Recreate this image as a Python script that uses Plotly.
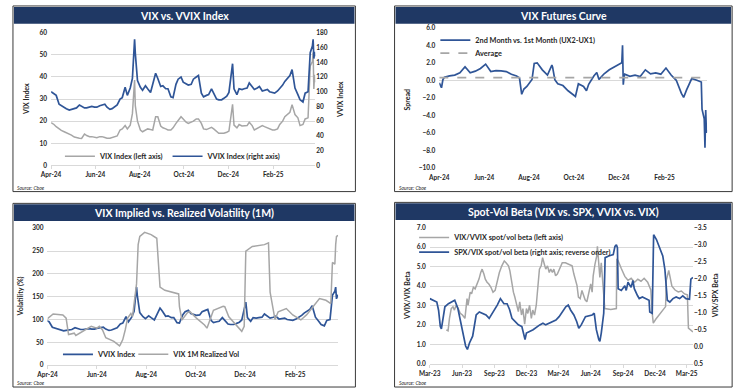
import plotly.graph_objects as go

# ---------------- DATA ----------------
# Panel 1 / 3 : VIX and VVIX index levels
idx_dates = ["2024-04-12", "2024-04-16", "2024-04-19", "2024-04-23", "2024-04-26", "2024-04-30",
             "2024-05-03", "2024-05-07", "2024-05-10", "2024-05-14", "2024-05-17", "2024-05-21",
             "2024-05-24", "2024-05-28", "2024-05-31", "2024-06-04", "2024-06-07", "2024-06-11",
             "2024-06-14", "2024-06-18", "2024-06-21", "2024-06-25", "2024-06-28", "2024-07-02",
             "2024-07-05", "2024-07-09", "2024-07-12", "2024-07-16", "2024-07-19", "2024-07-23",
             "2024-07-26", "2024-07-30", "2024-08-02", "2024-08-05", "2024-08-06", "2024-08-09",
             "2024-08-13", "2024-08-16", "2024-08-20", "2024-08-23", "2024-08-27", "2024-08-30",
             "2024-09-03", "2024-09-06", "2024-09-10", "2024-09-13", "2024-09-17", "2024-09-20",
             "2024-09-24", "2024-09-27", "2024-10-01", "2024-10-04", "2024-10-08", "2024-10-11",
             "2024-10-15", "2024-10-18", "2024-10-22", "2024-10-25", "2024-10-29", "2024-11-01",
             "2024-11-05", "2024-11-08", "2024-11-12", "2024-11-15", "2024-11-19", "2024-11-22",
             "2024-11-26", "2024-11-29", "2024-12-03", "2024-12-06", "2024-12-10", "2024-12-13",
             "2024-12-18", "2024-12-20", "2024-12-24", "2024-12-27", "2024-12-31", "2025-01-03",
             "2025-01-07", "2025-01-10", "2025-01-14", "2025-01-17", "2025-01-21", "2025-01-24",
             "2025-01-28", "2025-01-31", "2025-02-04", "2025-02-07", "2025-02-11", "2025-02-14",
             "2025-02-18", "2025-02-21", "2025-02-25", "2025-02-28", "2025-03-04", "2025-03-07",
             "2025-03-10", "2025-03-14", "2025-03-18", "2025-03-21", "2025-03-25", "2025-03-28",
             "2025-04-01", "2025-04-04", "2025-04-07", "2025-04-08", "2025-04-09", "2025-04-10",
             "2025-04-11"]
vix_values = [19.3, 18.5, 17.5, 16.5, 15.8, 15.2,
              14.8, 14.2, 13.7, 12.8, 12.5, 12.3,
              12.2, 14.2, 13.5, 13.0, 13.0, 12.7,
              12.5, 13.0, 13.0, 12.6, 12.3, 12.3,
              12.5, 12.8, 13.3, 16.0, 16.5, 18.0,
              16.5, 18.2, 23.4, 38.6, 27.0, 20.0,
              16.0, 15.2, 15.8, 16.5, 16.2, 16.0,
              22.0, 22.0, 17.8, 17.0, 16.5, 16.0,
              16.0, 17.0, 19.0, 20.5, 22.0, 21.0,
              19.5, 19.0, 19.5, 20.0, 21.0, 21.0,
              19.0, 16.5, 16.2, 16.7, 17.2, 16.5,
              15.3, 14.5, 14.5, 14.5, 15.0, 15.5,
              27.6, 18.2, 17.0, 18.5, 17.8, 17.8,
              18.0, 19.5, 18.0, 16.0, 16.8, 17.5,
              18.0, 17.5, 17.0, 16.5, 16.0, 16.0,
              16.5, 18.5, 20.0, 22.0, 23.0, 24.0,
              27.5, 23.0, 21.5, 18.0, 18.5, 21.0,
              21.5, 45.0, 47.0, 51.0, 34.6, 41.0,
              37.6]
vvix_values = [100, 97, 95, 83, 81, 79,
               77, 75, 76, 77, 78, 82,
               80, 78, 78, 79, 80, 79,
               79, 81, 82, 83, 79, 76,
               77, 80, 82, 90, 92, 106,
               95, 105, 118, 171, 152, 115,
               106, 102, 108, 104, 99, 110,
               125, 118, 107, 108, 104, 104,
               93, 92, 110, 117, 120, 113,
               110, 109, 110, 117, 120, 122,
               98, 93, 95, 96, 104, 98,
               90, 89, 89, 91, 94, 99,
               138, 104, 96, 104, 103, 104,
               105, 112, 106, 103, 105, 107,
               101, 102, 103, 100, 99, 98,
               101, 104, 109, 114, 118, 122,
               130, 105, 96, 89, 86, 98,
               100, 153, 162, 171, 145, 154,
               148]

# Panel 2 : UX2-UX1 spread
spread_dates = ["2024-04-12", "2024-04-15", "2024-04-17", "2024-04-19", "2024-04-26", "2024-05-03",
                "2024-05-10", "2024-05-17", "2024-05-24", "2024-05-31", "2024-06-07", "2024-06-14",
                "2024-06-21", "2024-06-28", "2024-07-05", "2024-07-12", "2024-07-19", "2024-07-26",
                "2024-07-30", "2024-08-01", "2024-08-02", "2024-08-05", "2024-08-09", "2024-08-16",
                "2024-08-19", "2024-08-23", "2024-08-30", "2024-09-06", "2024-09-12", "2024-09-13",
                "2024-09-16", "2024-09-20", "2024-09-27", "2024-10-04", "2024-10-11", "2024-10-14",
                "2024-10-18", "2024-10-25", "2024-10-29", "2024-11-01", "2024-11-08", "2024-11-12",
                "2024-11-15", "2024-11-22", "2024-11-29", "2024-12-06", "2024-12-13", "2024-12-16",
                "2024-12-17", "2024-12-18", "2024-12-19", "2024-12-20", "2024-12-27", "2025-01-03",
                "2025-01-10", "2025-01-17", "2025-01-24", "2025-01-31", "2025-02-07", "2025-02-14",
                "2025-02-21", "2025-02-28", "2025-03-07", "2025-03-10", "2025-03-14", "2025-03-21",
                "2025-03-28", "2025-04-03", "2025-04-04", "2025-04-07", "2025-04-08", "2025-04-09",
                "2025-04-10", "2025-04-11"]
spread_values = [-0.3, -0.85, 0.1, 0.35, 0.5, 0.6,
                 0.85, 1.55, 0.85, 1.05, 1.35, 1.85,
                 1.0, 1.1, 1.07, 1.0, 0.7, 0.5,
                 0.26, -1.2, -1.6, -1.0, -0.7, 0.1,
                 1.93, 2.0, 1.2, 0.6, 1.74, 1.5,
                 0.07, -0.4, -0.6, -1.2, -1.7, -1.85,
                 -0.4, -0.7, -1.2, -0.45, 0.5, 0.9,
                 0.1, 0.75, 1.2, 1.5, 1.85, 2.0,
                 4.0, -0.5, 0.4, 0.7, 0.45, 0.6,
                 0.44, 1.2, 0.74, 0.85, 0.7, 1.4,
                 0.6, 0.0, -1.5, -1.96, -1.1, 0.2,
                 0.0, -0.2, -3.3, -4.4, -7.7, -3.4,
                 -6.0, -5.7]
spread_average = 0.3

# Panel 3 : VIX 1M realized vol
rv_dates = ["2024-04-17", "2024-04-24", "2024-05-06", "2024-05-10", "2024-05-13", "2024-05-20",
            "2024-05-22", "2024-05-30", "2024-06-10", "2024-06-17", "2024-06-20", "2024-06-24",
            "2024-06-28", "2024-07-08", "2024-07-15", "2024-07-16", "2024-07-19", "2024-07-22",
            "2024-07-25", "2024-07-29", "2024-07-31", "2024-08-02", "2024-08-05", "2024-08-07",
            "2024-08-09", "2024-08-15", "2024-08-23", "2024-08-30", "2024-09-03", "2024-09-09",
            "2024-09-18", "2024-09-26", "2024-09-27", "2024-09-30", "2024-10-07", "2024-10-10",
            "2024-10-18", "2024-10-28", "2024-10-31", "2024-11-04", "2024-11-08", "2024-11-20",
            "2024-11-22", "2024-11-27", "2024-12-06", "2024-12-13", "2024-12-16", "2024-12-18",
            "2024-12-26", "2025-01-10", "2025-01-15", "2025-01-17", "2025-01-23", "2025-01-27",
            "2025-02-06", "2025-02-14", "2025-02-24", "2025-03-03", "2025-03-11", "2025-03-19",
            "2025-03-27", "2025-04-02", "2025-04-04", "2025-04-07", "2025-04-08", "2025-04-09",
            "2025-04-11"]
rv_values = [102, 112, 110, 103, 67, 70,
             65, 74, 85, 81, 85, 77,
             60, 52, 42, 45, 56, 77,
             103, 113, 106, 135, 178, 264,
             282, 291, 286, 278, 171, 164,
             160, 156, 128, 99, 115, 117,
             103, 88, 81, 99, 120, 129,
             128, 106, 88, 74, 85, 250,
             260, 264, 268, 160, 100, 117,
             124, 110, 99, 110, 128, 146,
             142, 135, 225, 221, 264, 282,
             284]

# Panel 4 : spot-vol betas
spx_beta_dates = ["2023-03-24", "2023-04-04", "2023-04-13", "2023-04-18", "2023-04-23", "2023-04-26",
                  "2023-05-02", "2023-05-06", "2023-05-16", "2023-06-03", "2023-06-12", "2023-06-19",
                  "2023-06-26", "2023-07-04", "2023-07-09", "2023-07-15", "2023-07-24", "2023-08-03",
                  "2023-08-12", "2023-08-31", "2023-09-09", "2023-09-18", "2023-10-02", "2023-10-11",
                  "2023-10-21", "2023-10-30", "2023-11-06", "2023-11-13", "2023-12-01", "2023-12-11",
                  "2023-12-15", "2023-12-20", "2023-12-24", "2024-01-12", "2024-01-31", "2024-02-09",
                  "2024-02-17", "2024-03-08", "2024-03-17", "2024-03-26", "2024-04-05", "2024-04-14",
                  "2024-04-21", "2024-04-28", "2024-05-07", "2024-05-15", "2024-05-21", "2024-05-28",
                  "2024-06-09", "2024-06-28", "2024-07-04", "2024-07-10", "2024-07-17", "2024-07-20",
                  "2024-07-24", "2024-07-31", "2024-08-04", "2024-08-14", "2024-08-27", "2024-09-01",
                  "2024-09-05", "2024-09-08", "2024-09-10", "2024-09-19", "2024-09-29", "2024-10-03",
                  "2024-10-08", "2024-10-17", "2024-10-22", "2024-10-26", "2024-11-04", "2024-11-09",
                  "2024-11-18", "2024-11-27", "2024-12-07", "2024-12-09", "2024-12-16", "2024-12-20",
                  "2024-12-28", "2025-01-06", "2025-01-15", "2025-01-21", "2025-01-26", "2025-01-28",
                  "2025-02-04", "2025-02-13", "2025-02-22", "2025-03-04", "2025-03-13", "2025-03-22",
                  "2025-04-01", "2025-04-05", "2025-04-11"]
spx_beta_values = [-1.42, -1.37, -1.32, -1.08, -0.60, -0.53,
                   -0.89, -1.18, -1.27, -1.37, -1.13, -0.79,
                   -0.41, -0.03, 0.07, -0.12, -0.32, -0.94,
                   -1.03, -0.94, -0.84, -0.99, -1.23, -1.42,
                   -1.27, -1.27, -1.10, -0.84, -0.65, -0.60,
                   -0.41, -0.22, -0.41, -0.51, -0.65, -0.70,
                   -0.65, -0.75, -0.79, -0.89, -1.03, -1.18,
                   -1.23, -1.08, -0.94, -0.75, -0.55, -0.65,
                   -0.89, -0.94, -0.99, -0.51, -0.22, -0.17,
                   -0.41, -0.99, -2.62, -2.67, -2.71, -2.95,
                   -3.00, -2.91, -1.71, -1.66, -1.80, -1.66,
                   -1.90, -1.75, -1.95, -1.71, -1.51, -1.42,
                   -1.47, -1.42, -1.37, -1.03, -0.99, -3.29,
                   -3.15, -2.91, -2.67, -2.28, -1.71, -1.37,
                   -1.32, -1.42, -1.47, -1.42, -1.50, -1.42,
                   -1.40, -1.99, -2.04]

vvix_beta_dates = ["2023-05-10", "2023-05-15", "2023-05-19", "2023-05-24", "2023-05-29", "2023-06-02",
                   "2023-06-07", "2023-06-13", "2023-06-19", "2023-06-25", "2023-07-02", "2023-07-08",
                   "2023-07-11", "2023-07-17", "2023-07-21", "2023-07-26", "2023-07-31", "2023-08-06",
                   "2023-08-11", "2023-08-16", "2023-08-20", "2023-08-25", "2023-08-29", "2023-09-03",
                   "2023-09-08", "2023-09-14", "2023-09-20", "2023-09-26", "2023-10-03", "2023-10-08",
                   "2023-10-15", "2023-10-22", "2023-10-27", "2023-11-03", "2023-11-07", "2023-11-12",
                   "2023-11-17", "2023-11-21", "2023-11-26", "2023-12-01", "2023-12-05", "2023-12-10",
                   "2023-12-14", "2023-12-19", "2023-12-24", "2023-12-28", "2024-01-02", "2024-01-07",
                   "2024-01-11", "2024-01-16", "2024-01-21", "2024-01-25", "2024-01-30", "2024-02-04",
                   "2024-02-08", "2024-02-13", "2024-02-17", "2024-02-22", "2024-02-27", "2024-03-02",
                   "2024-03-07", "2024-03-11", "2024-03-16", "2024-03-21", "2024-03-25", "2024-03-30",
                   "2024-04-04", "2024-04-13", "2024-04-22", "2024-05-02", "2024-05-07", "2024-05-11",
                   "2024-05-16", "2024-05-20", "2024-05-25", "2024-05-30", "2024-06-08", "2024-06-13",
                   "2024-06-17", "2024-06-24", "2024-06-28", "2024-07-01", "2024-07-06", "2024-07-11",
                   "2024-07-13", "2024-07-17", "2024-07-20", "2024-07-24", "2024-07-29", "2024-08-03",
                   "2024-08-20", "2024-09-05", "2024-09-06", "2024-09-10", "2024-09-19", "2024-09-29",
                   "2024-10-08", "2024-10-17", "2024-10-27", "2024-11-05", "2024-11-14", "2024-11-23",
                   "2024-12-03", "2024-12-12", "2024-12-16", "2024-12-19", "2024-12-26", "2025-01-04",
                   "2025-01-18", "2025-01-23", "2025-01-25", "2025-02-01", "2025-02-10", "2025-02-19",
                   "2025-02-28", "2025-03-09", "2025-03-18", "2025-03-26", "2025-03-29", "2025-04-04",
                   "2025-04-11"]
vvix_beta_values = [1.76, 1.71, 2.35, 2.85, 2.94, 2.77,
                    3.02, 2.85, 2.60, 2.52, 2.35, 3.36,
                    3.02, 3.69, 3.61, 3.94, 3.86, 4.11,
                    4.36, 4.70, 4.87, 4.62, 4.36, 4.20,
                    4.11, 3.94, 3.69, 3.78, 4.36, 4.70,
                    5.04, 5.29, 5.20, 5.04, 4.78, 4.20,
                    3.69, 3.44, 3.02, 2.69, 3.19, 2.52,
                    2.85, 2.05, 2.85, 2.60, 3.02, 2.35,
                    2.77, 2.52, 3.02, 4.03, 4.87, 5.04,
                    5.46, 5.12, 4.87, 5.04, 4.70, 4.87,
                    4.70, 4.87, 4.53, 4.62, 4.78, 5.04,
                    5.20, 5.20, 5.12, 5.04, 4.62, 4.28,
                    4.03, 3.44, 3.36, 3.78, 3.30, 3.20,
                    3.61, 4.11, 3.69, 4.53, 5.12, 5.54,
                    6.04, 5.20, 4.45, 5.20, 4.20, 2.85,
                    2.80, 2.85, 5.40, 5.30, 4.90, 4.50,
                    4.30, 4.40, 4.20, 4.35, 4.25, 4.40,
                    4.20, 3.80, 2.60, 2.10, 2.30, 2.50,
                    2.80, 2.95, 4.30, 4.80, 4.00, 3.80,
                    3.70, 3.75, 3.60, 3.55, 1.85, 1.75,
                    1.65]

# tick labels
ticks_1y_a = ["2024-04-12", "2024-06-12", "2024-08-12", "2024-10-12", "2024-12-12", "2025-02-12"]
ticks_1y_b = ["2024-04-17", "2024-06-17", "2024-08-17", "2024-10-17", "2024-12-17", "2025-02-17"]
ticks_1y_text = ["Apr-24", "Jun-24", "Aug-24", "Oct-24", "Dec-24", "Feb-25"]
ticks_2y = ["2023-03-24", "2023-06-24", "2023-09-24", "2023-12-24", "2024-03-24",
            "2024-06-24", "2024-09-24", "2024-12-24", "2025-03-24"]
ticks_2y_text = ["Mar-23", "Jun-23", "Sep-23", "Dec-23", "Mar-24", "Jun-24", "Sep-24", "Dec-24", "Mar-25"]

# ---------------- STYLE ----------------
W, H = 743, 391
NAVY = "#1F3864"
BLUE = "#2F5597"
GRAY = "#A6A6A6"
GRID = "#D9D9D9"
TXT = "#262626"
FONT = "Lato"


def px(x):
    return x / W


def py(y):
    return 1 - y / H


tickfont = dict(family=FONT, size=6.5, color=TXT, weight="bold")
LEGSIZE = 7.3


def leg(text_x, y):
    # one legend box per entry; the entry text begins 40 px right of the box origin
    return dict(orientation="v", x=px(text_x - 40), y=py(y), xanchor="left", yanchor="middle",
                bgcolor="rgba(0,0,0,0)", visible=True,
                font=dict(family=FONT, size=LEGSIZE, color=TXT, weight="bold"))


fig = go.Figure()

# Panel 1
fig.add_trace(go.Scatter(x=idx_dates, y=vix_values, name="VIX Index (left axis)", mode="lines",
                         line=dict(color=GRAY, width=1.5), xaxis="x", yaxis="y", legend="legend",
                         showlegend=True))
fig.add_trace(go.Scatter(x=idx_dates, y=vvix_values, name="VVIX Index (right axis)", mode="lines",
                         line=dict(color=BLUE, width=1.7), xaxis="x", yaxis="y2", legend="legend2",
                         showlegend=True))
# Panel 2
fig.add_trace(go.Scatter(x=spread_dates, y=spread_values, name="2nd Month vs. 1st Month (UX2-UX1)",
                         mode="lines", line=dict(color=BLUE, width=1.7), xaxis="x2", yaxis="y3",
                         legend="legend3", showlegend=True))
fig.add_trace(go.Scatter(x=[spread_dates[0], spread_dates[-1]], y=[spread_average, spread_average],
                         name="Average", mode="lines", line=dict(color=GRAY, width=1.8, dash="dash"),
                         xaxis="x2", yaxis="y3", legend="legend4", showlegend=True))
# Panel 3
fig.add_trace(go.Scatter(x=idx_dates, y=vvix_values, name="VVIX Index", mode="lines",
                         line=dict(color=BLUE, width=1.7), xaxis="x3", yaxis="y4", legend="legend5",
                         showlegend=True))
fig.add_trace(go.Scatter(x=rv_dates, y=rv_values, name="VIX 1M Realized Vol", mode="lines",
                         line=dict(color=GRAY, width=1.5), xaxis="x3", yaxis="y4", legend="legend6",
                         showlegend=True))
# Panel 4
fig.add_trace(go.Scatter(x=vvix_beta_dates, y=vvix_beta_values, name="VIX/VVIX spot/vol beta (left axis)",
                         mode="lines", line=dict(color=GRAY, width=1.5), xaxis="x4", yaxis="y5",
                         legend="legend7", showlegend=True))
fig.add_trace(go.Scatter(x=spx_beta_dates, y=spx_beta_values,
                         name="SPX/VIX spot/vol beta (right axis; reverse order)",
                         mode="lines", line=dict(color=BLUE, width=1.7), xaxis="x4", yaxis="y6",
                         legend="legend8", showlegend=True))

xcommon = dict(type="date", showgrid=False, showline=True, linecolor=GRID, linewidth=1,
               ticks="outside", tickcolor=GRID, ticklen=3, tickfont=tickfont, zeroline=False)
ycommon = dict(showgrid=True, gridcolor=GRID, gridwidth=1, zeroline=False, showline=False,
               ticks="", tickfont=tickfont)

layout = dict(
    width=W, height=H, autosize=False, showlegend=True,
    margin=dict(l=0, r=0, t=0, b=0),
    paper_bgcolor="white", plot_bgcolor="white",
    font=dict(family=FONT, color=TXT),
    xaxis=dict(xcommon, domain=[px(41), px(311)], anchor="y",
               range=["2024-04-12", "2025-04-11"], tickvals=ticks_1y_a, ticktext=ticks_1y_text),
    yaxis=dict(ycommon, domain=[py(164.3), py(29.3)], anchor="x", range=[0, 60], dtick=10,
               ticklabelstandoff=3),
    yaxis2=dict(ycommon, overlaying="y", side="right", anchor="x", range=[0, 180], dtick=20,
                showgrid=False),
    xaxis2=dict(xcommon, domain=[px(437.7), px(711.5)], anchor="y3", showline=False,
                tickcolor="rgba(0,0,0,0)",
                range=["2024-04-12", "2025-04-11"], tickvals=ticks_1y_a, ticktext=ticks_1y_text),
    yaxis3=dict(ycommon, domain=[py(166.7), py(24.3)], anchor="x2", range=[-10, 6], dtick=2,
                tickformat=".1f", showgrid=False, zeroline=True, zerolinecolor=GRID, zerolinewidth=1.2,
                ticklabelstandoff=3),
    xaxis3=dict(xcommon, domain=[px(37.3), px(334.3)], anchor="y4",
                range=["2024-04-17", "2025-04-11"], tickvals=ticks_1y_b, ticktext=ticks_1y_text),
    yaxis4=dict(ycommon, domain=[py(367.7), py(228.3)], anchor="x3", range=[0, 300], dtick=50,
                ticklabelstandoff=3),
    xaxis4=dict(xcommon, domain=[px(428), px(697)], anchor="y5",
                range=["2023-03-24", "2025-04-11"], tickvals=ticks_2y, ticktext=ticks_2y_text),
    yaxis5=dict(ycommon, domain=[py(366.7), py(227.7)], anchor="x4", range=[0, 7], dtick=1,
                tickformat=".1f", ticklabelstandoff=3),
    yaxis6=dict(ycommon, overlaying="y5", side="right", anchor="x4", range=[0.5, -3.5], dtick=0.5,
                tickformat=".1f", showgrid=False),
    legend=leg(90, 155),
    legend2=leg(200, 155),
    legend3=leg(473.7, 36.7),
    legend4=leg(473.7, 50),
    legend5=leg(88, 356.7),
    legend6=leg(165, 356.7),
    legend7=leg(452, 237.7),
    legend8=leg(452, 252.7),
)

panels = [
    dict(x0=2, x1=352, y0=2, y1=191, title="VIX vs. VVIX Index"),
    dict(x0=392, x1=737, y0=2, y1=191, title="VIX Futures Curve"),
    dict(x0=2, x1=352, y0=203, y1=390, title="VIX Implied vs. Realized Volatility (1M)"),
    dict(x0=392, x1=737, y0=202, y1=390, title="Spot-Vol Beta (VIX vs. SPX, VVIX vs. VIX)"),
]
shapes = []
annotations = []
for p in panels:
    shapes.append(dict(type="rect", xref="paper", yref="paper", x0=px(p["x0"] + 1), x1=px(p["x1"] - 1),
                       y0=py(p["y0"] + 1), y1=py(p["y0"] + 18), fillcolor=NAVY, line=dict(width=0),
                       layer="below"))
    shapes.append(dict(type="rect", xref="paper", yref="paper", x0=px(p["x0"]), x1=px(p["x1"]),
                       y0=py(p["y0"]), y1=py(p["y1"]), line=dict(color="#3A3A3A", width=1),
                       fillcolor="rgba(0,0,0,0)", layer="above"))
    annotations.append(dict(xref="paper", yref="paper", x=px((p["x0"] + p["x1"]) / 2),
                            y=py(p["y0"] + 10), text="<b>" + p["title"] + "</b>", showarrow=False,
                            xanchor="center", yanchor="middle",
                            font=dict(family=FONT, size=10.5, color="white")))
    annotations.append(dict(xref="paper", yref="paper", x=px(p["x0"] + 2), y=py(p["y1"] - 4),
                            text="<i>Source: Cboe</i>", showarrow=False, xanchor="left",
                            yanchor="middle", font=dict(family=FONT, size=5, color=TXT)))

axis_titles = [
    ("VIX Index", 16, 97),
    ("VVIX Index", 337, 97),
    ("Spread", 405, 97),
    ("Volatility (%)", 10, 298),
    ("VVIX/VIX Beta", 404, 297),
    ("VIX/SPX Beta", 719, 297),
]
for text, x, y in axis_titles:
    annotations.append(dict(xref="paper", yref="paper", x=px(x), y=py(y), text=text, textangle=-90,
                            showarrow=False, xanchor="center", yanchor="middle",
                            font=dict(family=FONT, size=7, color=TXT, weight="bold")))

layout["shapes"] = shapes
layout["annotations"] = annotations
fig.update_layout(**layout)
fig.write_html("out.html", config={"displayModeBar": False},
               post_script="document.body.style.margin='0px';")
